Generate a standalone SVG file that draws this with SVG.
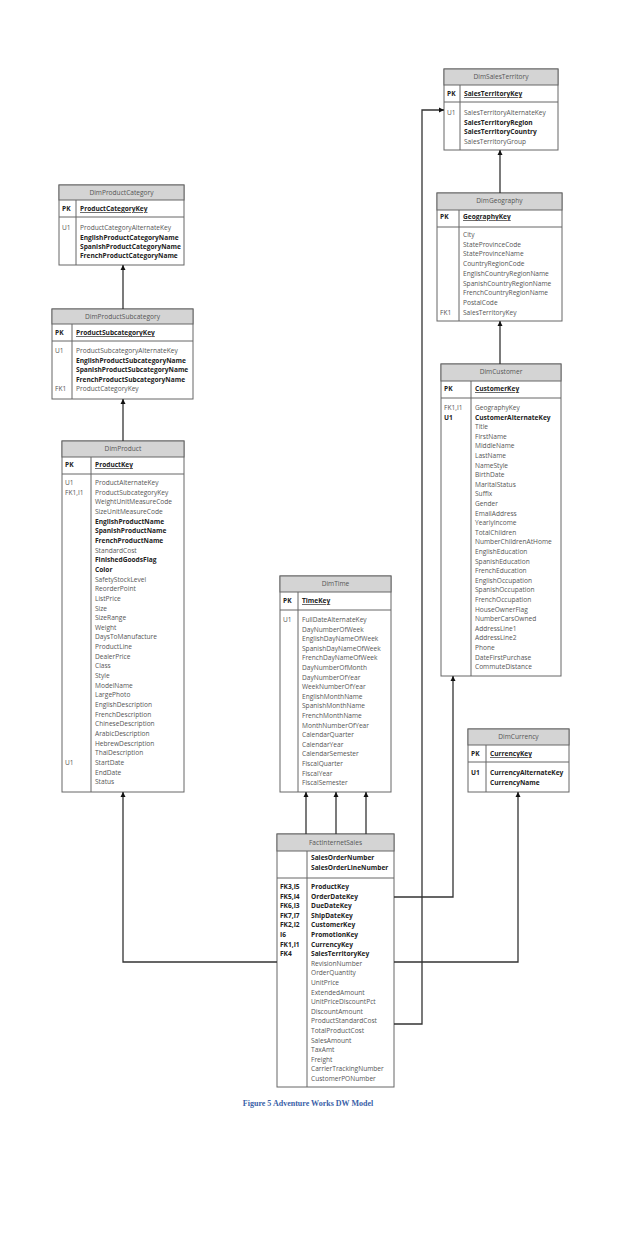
<svg xmlns="http://www.w3.org/2000/svg" width="638" height="1253" viewBox="0 0 638 1253">
<style>
.box{fill:#fff;stroke:#666;stroke-width:1}
.hd{fill:#d4d4d4;stroke:#666;stroke-width:1}
.ln{stroke:#666;stroke-width:1}
text{font-family:"Open Sans","Liberation Sans",sans-serif;font-size:6.6px;fill:#555}
.t{text-anchor:middle}
.b{font-weight:bold;fill:#222}
.pk{font-weight:bold;fill:#222;text-decoration:underline}
.c{stroke:#333;stroke-width:1.3;fill:none;marker-end:url(#a)}
.cap{font-family:"Liberation Serif",serif;font-size:8px;font-weight:bold;fill:#3a5fa8}
</style>
<defs><marker id="a" viewBox="0 0 10 10" refX="10" refY="5" markerWidth="5" markerHeight="6" orient="auto" markerUnits="userSpaceOnUse"><path d="M0,0L10,5L0,10z" fill="#111"/></marker></defs>
<rect width="638" height="1253" fill="#fff"/>

<g id="DimProductCategory">
<rect class="box" x="59" y="185" width="125" height="80"/><rect class="hd" x="59" y="185" width="125" height="15"/>
<line class="ln" x1="59" y1="217" x2="184" y2="217"/><line class="ln" x1="76" y1="200" x2="76" y2="265"/>
<text class="t" x="121.5" y="195">DimProductCategory</text>
<text class="b" x="62" y="211">PK</text><text class="pk" x="80" y="211">ProductCategoryKey</text>
<text x="62" y="230">U1</text><text x="80" y="230">ProductCategoryAlternateKey</text>
<text class="b" x="80" y="240">EnglishProductCategoryName</text>
<text class="b" x="80" y="249">SpanishProductCategoryName</text>
<text class="b" x="80" y="258">FrenchProductCategoryName</text>
</g>

<g id="DimProductSubcategory">
<rect class="box" x="52" y="309" width="141" height="90"/><rect class="hd" x="52" y="309" width="141" height="15"/>
<line class="ln" x1="52" y1="341" x2="193" y2="341"/><line class="ln" x1="72" y1="324" x2="72" y2="399"/>
<text class="t" x="122.5" y="319">DimProductSubcategory</text>
<text class="b" x="55" y="335">PK</text><text class="pk" x="76" y="335">ProductSubcategoryKey</text>
<text x="55" y="353">U1</text><text x="76" y="353">ProductSubcategoryAlternateKey</text>
<text class="b" x="76" y="362.5">EnglishProductSubcategoryName</text>
<text class="b" x="76" y="372">SpanishProductSubcategoryName</text>
<text class="b" x="76" y="381.5">FrenchProductSubcategoryName</text>
<text x="55" y="391">FK1</text><text x="76" y="391">ProductCategoryKey</text>
</g>

<g id="DimProduct">
<rect class="box" x="62" y="441" width="122" height="351"/><rect class="hd" x="62" y="441" width="122" height="16"/>
<line class="ln" x1="62" y1="474" x2="184" y2="474"/><line class="ln" x1="91" y1="457" x2="91" y2="792"/>
<text class="t" x="123" y="451">DimProduct</text>
<text class="b" x="65" y="467">PK</text><text class="pk" x="95" y="467">ProductKey</text>
<text x="65" y="485">U1</text><text x="65" y="494.6">FK1,I1</text><text x="65" y="765">U1</text>
<text x="95" y="485">ProductAlternateKey</text>
<text x="95" y="494.6">ProductSubcategoryKey</text>
<text x="95" y="504.3">WeightUnitMeasureCode</text>
<text x="95" y="514">SizeUnitMeasureCode</text>
<text class="b" x="95" y="523.6">EnglishProductName</text>
<text class="b" x="95" y="533.3">SpanishProductName</text>
<text class="b" x="95" y="542.9">FrenchProductName</text>
<text x="95" y="552.6">StandardCost</text>
<text class="b" x="95" y="562.2">FinishedGoodsFlag</text>
<text class="b" x="95" y="571.9">Color</text>
<text x="95" y="581.5">SafetyStockLevel</text>
<text x="95" y="591.2">ReorderPoint</text>
<text x="95" y="600.8">ListPrice</text>
<text x="95" y="610.5">Size</text>
<text x="95" y="620.1">SizeRange</text>
<text x="95" y="629.8">Weight</text>
<text x="95" y="639.4">DaysToManufacture</text>
<text x="95" y="649.1">ProductLine</text>
<text x="95" y="658.7">DealerPrice</text>
<text x="95" y="668.4">Class</text>
<text x="95" y="678">Style</text>
<text x="95" y="687.7">ModelName</text>
<text x="95" y="697.3">LargePhoto</text>
<text x="95" y="707">EnglishDescription</text>
<text x="95" y="716.6">FrenchDescription</text>
<text x="95" y="726.3">ChineseDescription</text>
<text x="95" y="735.9">ArabicDescription</text>
<text x="95" y="745.6">HebrewDescription</text>
<text x="95" y="755.2">ThaiDescription</text>
<text x="95" y="764.9">StartDate</text>
<text x="95" y="774.5">EndDate</text>
<text x="95" y="784.2">Status</text>
</g>

<g id="DimSalesTerritory">
<rect class="box" x="444" y="69" width="114" height="81"/><rect class="hd" x="444" y="69" width="114" height="16"/>
<line class="ln" x1="444" y1="102" x2="558" y2="102"/><line class="ln" x1="460" y1="85" x2="460" y2="150"/>
<text class="t" x="501" y="79">DimSalesTerritory</text>
<text class="b" x="447" y="96">PK</text><text class="pk" x="464" y="96">SalesTerritoryKey</text>
<text x="447" y="115">U1</text><text x="464" y="115">SalesTerritoryAlternateKey</text>
<text class="b" x="464" y="124.5">SalesTerritoryRegion</text>
<text class="b" x="464" y="134">SalesTerritoryCountry</text>
<text x="464" y="143.5">SalesTerritoryGroup</text>
</g>

<g id="DimGeography">
<rect class="box" x="437" y="193" width="125" height="128"/><rect class="hd" x="437" y="193" width="125" height="17"/>
<line class="ln" x1="437" y1="227" x2="562" y2="227"/><line class="ln" x1="459" y1="210" x2="459" y2="321"/>
<text class="t" x="499.5" y="203">DimGeography</text>
<text class="b" x="440" y="219">PK</text><text class="pk" x="463" y="219">GeographyKey</text>
<text x="463" y="237">City</text>
<text x="463" y="246.7">StateProvinceCode</text>
<text x="463" y="256.4">StateProvinceName</text>
<text x="463" y="266.1">CountryRegionCode</text>
<text x="463" y="275.8">EnglishCountryRegionName</text>
<text x="463" y="285.5">SpanishCountryRegionName</text>
<text x="463" y="295.2">FrenchCountryRegionName</text>
<text x="463" y="304.9">PostalCode</text>
<text x="440" y="314.6">FK1</text><text x="463" y="314.6">SalesTerritoryKey</text>
</g>

<g id="DimCustomer">
<rect class="box" x="441" y="364" width="120" height="312"/><rect class="hd" x="441" y="364" width="120" height="17"/>
<line class="ln" x1="441" y1="398" x2="561" y2="398"/><line class="ln" x1="471" y1="381" x2="471" y2="676"/>
<text class="t" x="501" y="374">DimCustomer</text>
<text class="b" x="444" y="391">PK</text><text class="pk" x="475" y="391">CustomerKey</text>
<text x="444" y="410">FK1,I1</text><text class="b" x="444" y="419.6">U1</text>
<text x="475" y="410">GeographyKey</text>
<text class="b" x="475" y="419.6">CustomerAlternateKey</text>
<text x="475" y="429.2">Title</text>
<text x="475" y="438.8">FirstName</text>
<text x="475" y="448.4">MiddleName</text>
<text x="475" y="458">LastName</text>
<text x="475" y="467.6">NameStyle</text>
<text x="475" y="477.2">BirthDate</text>
<text x="475" y="486.8">MaritalStatus</text>
<text x="475" y="496.4">Suffix</text>
<text x="475" y="506">Gender</text>
<text x="475" y="515.6">EmailAddress</text>
<text x="475" y="525.2">YearlyIncome</text>
<text x="475" y="534.8">TotalChildren</text>
<text x="475" y="544.4">NumberChildrenAtHome</text>
<text x="475" y="554">EnglishEducation</text>
<text x="475" y="563.6">SpanishEducation</text>
<text x="475" y="573.2">FrenchEducation</text>
<text x="475" y="582.8">EnglishOccupation</text>
<text x="475" y="592.4">SpanishOccupation</text>
<text x="475" y="602">FrenchOccupation</text>
<text x="475" y="611.6">HouseOwnerFlag</text>
<text x="475" y="621.2">NumberCarsOwned</text>
<text x="475" y="630.8">AddressLine1</text>
<text x="475" y="640.4">AddressLine2</text>
<text x="475" y="650">Phone</text>
<text x="475" y="659.6">DateFirstPurchase</text>
<text x="475" y="669.2">CommuteDistance</text>
</g>

<g id="DimTime">
<rect class="box" x="280" y="576" width="111" height="216"/><rect class="hd" x="280" y="576" width="111" height="16"/>
<line class="ln" x1="280" y1="610" x2="391" y2="610"/><line class="ln" x1="298" y1="592" x2="298" y2="792"/>
<text class="t" x="335.5" y="586">DimTime</text>
<text class="b" x="283" y="603">PK</text><text class="pk" x="302" y="603">TimeKey</text>
<text x="283" y="622">U1</text>
<text x="302" y="622">FullDateAlternateKey</text>
<text x="302" y="631.6">DayNumberOfWeek</text>
<text x="302" y="641.2">EnglishDayNameOfWeek</text>
<text x="302" y="650.8">SpanishDayNameOfWeek</text>
<text x="302" y="660.4">FrenchDayNameOfWeek</text>
<text x="302" y="670">DayNumberOfMonth</text>
<text x="302" y="679.6">DayNumberOfYear</text>
<text x="302" y="689.2">WeekNumberOfYear</text>
<text x="302" y="698.8">EnglishMonthName</text>
<text x="302" y="708.4">SpanishMonthName</text>
<text x="302" y="718">FrenchMonthName</text>
<text x="302" y="727.6">MonthNumberOfYear</text>
<text x="302" y="737.2">CalendarQuarter</text>
<text x="302" y="746.8">CalendarYear</text>
<text x="302" y="756.4">CalendarSemester</text>
<text x="302" y="766">FiscalQuarter</text>
<text x="302" y="775.6">FiscalYear</text>
<text x="302" y="785.2">FiscalSemester</text>
</g>

<g id="DimCurrency">
<rect class="box" x="468" y="729" width="101" height="63"/><rect class="hd" x="468" y="729" width="101" height="16"/>
<line class="ln" x1="468" y1="762" x2="569" y2="762"/><line class="ln" x1="486" y1="745" x2="486" y2="792"/>
<text class="t" x="518.5" y="739">DimCurrency</text>
<text class="b" x="471" y="756">PK</text><text class="pk" x="490" y="756">CurrencyKey</text>
<text class="b" x="471" y="775">U1</text><text class="b" x="490" y="775">CurrencyAlternateKey</text>
<text class="b" x="490" y="785">CurrencyName</text>
</g>

<g id="FactInternetSales">
<rect class="box" x="277" y="834" width="117" height="253"/><rect class="hd" x="277" y="834" width="117" height="17"/>
<line class="ln" x1="277" y1="878" x2="394" y2="878"/><line class="ln" x1="307" y1="851" x2="307" y2="1087"/>
<text class="t" x="335.5" y="845">FactInternetSales</text>
<text class="b" x="311" y="860">SalesOrderNumber</text>
<text class="b" x="311" y="870">SalesOrderLineNumber</text>
<text class="b" x="280" y="889">FK3,I5</text><text class="b" x="311" y="889">ProductKey</text>
<text class="b" x="280" y="898.6">FK5,I4</text><text class="b" x="311" y="898.6">OrderDateKey</text>
<text class="b" x="280" y="908.2">FK6,I3</text><text class="b" x="311" y="908.2">DueDateKey</text>
<text class="b" x="280" y="917.8">FK7,I7</text><text class="b" x="311" y="917.8">ShipDateKey</text>
<text class="b" x="280" y="927.4">FK2,I2</text><text class="b" x="311" y="927.4">CustomerKey</text>
<text class="b" x="280" y="937">I6</text><text class="b" x="311" y="937">PromotionKey</text>
<text class="b" x="280" y="946.6">FK1,I1</text><text class="b" x="311" y="946.6">CurrencyKey</text>
<text class="b" x="280" y="956.2">FK4</text><text class="b" x="311" y="956.2">SalesTerritoryKey</text>
<text x="311" y="965.8">RevisionNumber</text>
<text x="311" y="975.4">OrderQuantity</text>
<text x="311" y="985">UnitPrice</text>
<text x="311" y="994.6">ExtendedAmount</text>
<text x="311" y="1004.2">UnitPriceDiscountPct</text>
<text x="311" y="1013.8">DiscountAmount</text>
<text x="311" y="1023.4">ProductStandardCost</text>
<text x="311" y="1033">TotalProductCost</text>
<text x="311" y="1042.6">SalesAmount</text>
<text x="311" y="1052.2">TaxAmt</text>
<text x="311" y="1061.8">Freight</text>
<text x="311" y="1071.4">CarrierTrackingNumber</text>
<text x="311" y="1081">CustomerPONumber</text>
</g>

<g id="connectors">
<path class="c" d="M123,309V265"/>
<path class="c" d="M123,441V399"/>
<path class="c" d="M277,962H123V792"/>
<path class="c" d="M500,193V150"/>
<path class="c" d="M500,364V321"/>
<path class="c" d="M394,897H453V676"/>
<path class="c" d="M394,962H518V792"/>
<path class="c" d="M394,1024H422V110H444"/>
<path class="c" d="M306,834V792"/>
<path class="c" d="M336,834V792"/>
<path class="c" d="M366,834V792"/>
</g>
<text class="cap" x="308" y="1106" text-anchor="middle">Figure 5  Adventure Works DW Model</text>
</svg>
